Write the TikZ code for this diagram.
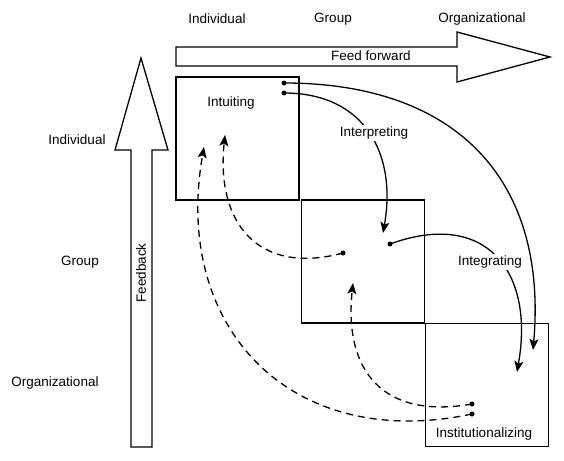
\documentclass[tikz,border=0pt]{standalone}
\usepackage{fontspec}
\setmainfont{Liberation Sans}
\usetikzlibrary{arrows.meta}
\begin{document}
\begin{tikzpicture}[x=1pt,y=1pt,
  every node/.style={font=\fontsize{13.5}{16}\selectfont, inner sep=1pt},
  outline/.style={draw=black, line width=1.3pt, fill=white, line join=miter},
  lvlbox/.style={draw=black, line width=1.3pt, rectangle, minimum width=123pt, minimum height=123pt, inner sep=0pt},
  flow/.style={line width=1.3pt, -{Stealth[length=11pt,width=9pt,inset=2.5pt]}},
  fback/.style={flow, dash pattern=on 7pt off 5pt},
  lbl/.style={fill=white, inner sep=2pt},
  dotmark/.style={fill=black}]
\useasboundingbox (0,0) rectangle (564,-460);
% big arrows
\draw[outline] (131,-447) -- (131,-150) -- (115,-150) -- (141,-58) -- (168,-150) -- (152,-150) -- (152,-447) -- cycle;
\draw[outline] (176,-47) -- (457,-47) -- (457,-32) -- (550,-57) -- (457,-82) -- (457,-66) -- (176,-66) -- cycle;
\node[rotate=90] (fb) at (141,-273) {Feedback};
\node (ff) at (371,-56) {Feed forward};
% axis labels
\node (ti) at (217,-19) {Individual};
\node (tg) at (333,-19) {Group};
\node (to) at (482,-19) {Organizational};
\node (li) at (77,-140) {Individual};
\node (lg) at (80,-262) {Group};
\node (lo) at (55,-383) {Organizational};
% boxes
\node[lvlbox] (b1) at (237.5,-138.5) {};
\node[lvlbox] (b2) at (363,-261.5) {};
\node[lvlbox] (b3) at (487,-385) {};
\node (intu) at (231,-103) {Intuiting};
\node (inst) at (484,-434) {Institutionalizing};
% endpoints
\coordinate (d1) at (284,-83);
\coordinate (d2) at (284,-93);
\coordinate (d3) at (343,-253);
\coordinate (d4) at (390,-244);
\coordinate (d5) at (472,-404);
\coordinate (d6) at (472,-414);
\coordinate (e1) at (533,-350);
\coordinate (e2) at (383,-233);
\coordinate (e3) at (517,-372);
\coordinate (e4) at (225,-135);
\coordinate (e5) at (353,-283);
\coordinate (e6) at (204,-147);
% solid flows
\draw[flow] (d1) to[out=0,in=85,looseness=1.2] (e1);
\draw[flow] (d2) to[out=0,in=80,looseness=1.2] (e2);
\draw[flow] (d4) to[out=20,in=80,looseness=1.45] (e3);
% dashed flows
\draw[fback] (d3) to[out=195,in=-96,looseness=1.35] (e4);
\draw[fback] (d5) to[out=190,in=-96,looseness=1.35] (e5);
\draw[fback] (d6) to[out=192,in=-100,looseness=1.25] (e6);
% dots
\foreach \d in {d1,d2,d3,d4,d5,d6} \fill[dotmark] (\d) circle (2.5pt);
% labels on curves
\node[lbl] (interp) at (374,-133) {Interpreting};
\node[lbl] (integ) at (490,-262) {Integrating};
\end{tikzpicture}
\end{document}
